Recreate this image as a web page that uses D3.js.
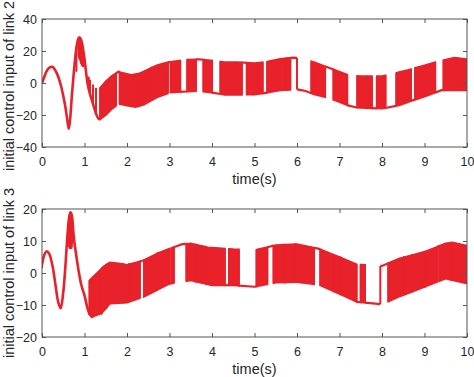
<!DOCTYPE html>
<html>
<head>
<meta charset="utf-8">
<script src="https://cdn.jsdelivr.net/npm/d3@7"></script>
<style>
  body { margin: 0; background: #fff; }
  svg { display: block; font-family: Arial, "Liberation Sans", Helvetica, sans-serif; }
</style>
</head>
<body>
<svg id="chart" width="474" height="377"></svg>
<script>
// ---- data ----
var timeTicks = [0, 1, 2, 3, 4, 5, 6, 7, 8, 9, 10];
var link2Ticks = [-40, -20, 0, 20, 40];
var link3Ticks = [-20, -10, 0, 10, 20];

// link 2: smooth start of the signal
var link2CurveT = [0, 0.05, 0.1, 0.15, 0.2, 0.25, 0.3, 0.35, 0.4, 0.45, 0.5, 0.55, 0.6, 0.63, 0.66, 0.7, 0.75, 0.8, 0.84, 0.87, 0.91, 0.96, 1.0, 1.07, 1.13, 1.2, 1.27, 1.33, 1.37];
var link2CurveV = [0, 3.5, 7, 9, 10, 10, 8.5, 6, 2.5, -2, -8, -15, -24, -28.5, -23, -9, 7, 20, 26.5, 28.5, 27.5, 22, 15, 0, -7, -13, -19, -22.3, -22.5];
// link 2: chattering envelopes
var link2UpperT = [1.37, 1.5, 1.65, 1.8, 1.95, 2.1, 2.3, 2.5, 2.7, 2.9, 3.1, 3.4, 3.7, 4.0, 4.3, 4.6, 5.0, 5.3, 5.6, 5.9, 6.1, 6.4, 6.7, 6.9, 7.2, 7.5, 8.0, 8.3, 8.6, 9.0, 9.4, 9.7, 10];
var link2UpperV = [-3, 1, 4.5, 7, 6, 5, 6, 8.5, 11, 12.5, 13.5, 14.5, 14.8, 14, 13, 13, 12.3, 13.3, 15, 15.8, 15.5, 13, 10, 8, 5, 4.2, 4.2, 6, 8, 11, 14, 15.8, 14.8];
var link2LowerT = [1.37, 1.5, 1.65, 1.8, 2.0, 2.2, 2.4, 2.7, 3.0, 3.4, 3.7, 4.0, 4.3, 4.6, 5.0, 5.3, 5.6, 6.0, 6.2, 6.4, 6.7, 6.9, 7.2, 7.4, 8.0, 8.4, 8.7, 9.0, 9.4, 10];
var link2LowerV = [-22.5, -20, -16, -13, -14, -15, -13.5, -9, -6, -5.3, -5, -6, -7.3, -7.3, -7.2, -6, -4.5, -4, -5, -7, -9, -10.8, -14, -15.3, -16, -14, -11, -8.5, -4.5, -4.5];
// [start, end, kind]  b = dense switching, h = held on upper, l = held on lower
var link2Segments = [
  [1.37, 1.74, "b"], [1.74, 1.83, "h"], [1.83, 2.27, "b"], [2.27, 2.31, "l"], [2.31, 2.56, "b"],
  [2.56, 2.6, "h"], [2.6, 2.96, "b"], [2.96, 3.03, "h"], [3.03, 3.25, "b"], [3.25, 3.42, "l"],
  [3.42, 3.62, "b"], [3.62, 3.8, "h"], [3.8, 4.0, "b"], [4.0, 4.2, "l"], [4.2, 4.7, "b"],
  [4.7, 4.82, "h"], [4.82, 5.19, "b"], [5.19, 5.3, "l"], [5.3, 5.74, "b"], [5.74, 5.76, "h"],
  [5.76, 5.84, "b"], [5.84, 6.0, "h"], [6.0, 6.34, "l"], [6.34, 6.66, "b"], [6.66, 6.86, "h"],
  [6.86, 7.18, "b"], [7.18, 7.42, "l"], [7.42, 7.62, "b"], [7.62, 7.65, "l"], [7.65, 7.76, "b"],
  [7.76, 7.88, "l"], [7.88, 8.08, "b"], [8.08, 8.34, "l"], [8.34, 8.68, "b"], [8.68, 8.78, "l"],
  [8.78, 9.25, "b"], [9.25, 9.45, "l"], [9.45, 10, "b"]
];
// isolated switching spikes [t, from, to]
var link2Spikes = [
  [0.81, 23, 7], [0.86, 28, 17], [0.87, 28.5, 16], [0.88, 28.5, 15], [0.89, 28.3, 14.5], [0.9, 28, 14],
  [0.91, 27.5, 13], [0.92, 27, 12], [0.93, 26.3, 11.5], [0.94, 25.5, 11], [0.95, 24.5, 10.5],
  [0.96, 23, 10], [0.99, 18, 10], [1.1, -3.5, 4], [1.13, -7, 2], [1.2, -13, -1], [1.27, -19, -3]
];

// link 3
var link3CurveT = [0, 0.05, 0.11, 0.17, 0.25, 0.32, 0.38, 0.44, 0.5, 0.55, 0.6, 0.64, 0.67, 0.7, 0.75, 0.8, 0.87, 0.93, 1.0, 1.07, 1.12];
var link3CurveV = [2.5, 5.5, 6.8, 6, 2, -4, -9, -11, -6, 2, 12, 17.5, 19, 18, 11, 6, 0, -4, -7, -11, -13];
var link3UpperT = [1.12, 1.3, 1.45, 1.6, 1.8, 2.0, 2.2, 2.4, 2.7, 3.0, 3.3, 3.5, 3.9, 4.5, 5.0, 5.5, 6.0, 6.5, 6.9, 7.4, 8.0, 8.4, 9.0, 9.5, 9.65, 10];
var link3UpperV = [-2.3, 0, 2, 3.3, 3, 2.5, 3.2, 4, 6, 7.6, 9, 9.2, 8, 7.4, 7.1, 8.7, 9, 7.6, 5.5, 2.7, 2.2, 4.5, 6.6, 9.2, 9.5, 8.5];
var link3LowerT = [1.12, 1.17, 1.25, 1.4, 1.6, 2.0, 2.4, 3.0, 3.5, 4.0, 4.5, 5.0, 5.5, 6.0, 6.5, 6.9, 7.4, 8.0, 8.4, 9.0, 9.5, 10];
var link3LowerV = [-13, -13.8, -13.3, -12.6, -9.5, -9.2, -7.4, -3.3, -2.3, -3.8, -3.8, -4.3, -3, -2.8, -3.6, -5.9, -9, -9.8, -7.4, -4.3, -1.7, -3.3];
var link3Segments = [
  [1.12, 1.38, "b"], [1.38, 1.41, "l"], [1.41, 1.5, "b"], [1.5, 1.53, "l"], [1.53, 1.9, "b"],
  [1.9, 1.93, "h"], [1.93, 2.03, "b"], [2.03, 2.06, "h"], [2.06, 2.3, "b"], [2.3, 2.4, "h"],
  [2.4, 2.7, "b"], [2.7, 2.73, "h"], [2.73, 3.0, "b"], [3.0, 3.05, "l"], [3.05, 3.1, "b"],
  [3.1, 3.4, "h"], [3.4, 3.6, "b"], [3.6, 3.63, "l"], [3.63, 3.75, "b"], [3.75, 3.78, "l"],
  [3.78, 3.85, "b"], [3.85, 3.88, "l"], [3.88, 4.3, "b"], [4.3, 4.4, "l"], [4.4, 4.63, "b"],
  [4.63, 5.05, "l"], [5.05, 5.3, "b"], [5.3, 5.45, "h"], [5.45, 5.7, "b"], [5.7, 5.73, "l"],
  [5.73, 5.95, "b"], [5.95, 5.98, "h"], [5.98, 6.4, "b"], [6.4, 6.55, "h"], [6.55, 6.85, "b"],
  [6.85, 6.88, "l"], [6.88, 7.0, "b"], [7.0, 7.03, "h"], [7.03, 7.4, "b"], [7.4, 7.5, "l"],
  [7.5, 7.6, "b"], [7.6, 7.96, "l"], [7.96, 8.15, "h"], [8.15, 8.5, "b"], [8.5, 8.53, "h"],
  [8.53, 8.7, "b"], [8.7, 8.73, "h"], [8.73, 9.0, "b"], [9.0, 9.03, "l"], [9.03, 9.3, "b"],
  [9.3, 9.35, "h"], [9.35, 9.6, "b"], [9.6, 9.63, "l"], [9.63, 10, "b"]
];
var link3Spikes = [
  [0.0, 1.5, 5], [0.62, 14, 10], [0.63, 16, 9], [0.64, 17.5, 8], [0.65, 18.3, 7.8], [0.66, 18.8, 7.5],
  [0.67, 19, 7.5], [0.68, 19, 7.5], [0.69, 18.6, 7.6], [0.7, 18, 8], [0.71, 17, 9], [0.72, 15, 10]
];

// ---- drawing ----
var RED = "#e8212a", AXIS = "#555555";
var svg = d3.select("#chart");
var x = d3.scaleLinear().domain([0, 10]).range([42, 467]);

function drawPanel(p) {
  var y = d3.scaleLinear().domain(p.yDomain).range([p.bottom, p.top]);
  var up = d3.scaleLinear().domain(p.upperT).range(p.upperV).clamp(true);
  var lo = d3.scaleLinear().domain(p.lowerT).range(p.lowerV).clamp(true);
  var g = svg.append("g");

  var clipId = "clip" + p.id;
  svg.append("clipPath").attr("id", clipId)
    .append("rect").attr("x", x(0)).attr("y", p.top)
    .attr("width", x(10) - x(0)).attr("height", p.bottom - p.top);
  var marks = g.append("g").attr("clip-path", "url(#" + clipId + ")");

  // knots of both envelopes inside a segment
  function knots(t0, t1) {
    var ts = [t0];
    p.upperT.concat(p.lowerT).forEach(function (t) { if (t > t0 && t < t1) ts.push(t); });
    ts.push(t1);
    return ts.sort(d3.ascending);
  }

  var area = d3.area()
    .x(function (t) { return x(t); })
    .y0(function (t) { return y(lo(t)); })
    .y1(function (t) { return y(up(t)); });
  var line = d3.line().x(function (d) { return x(d[0]); }).y(function (d) { return y(d[1]); });

  p.segments.forEach(function (s) {
    var ts = knots(s[0], s[1]);
    if (s[2] === "b") {
      marks.append("path").attr("d", area(ts))
        .attr("fill", RED).attr("stroke", RED).attr("stroke-width", 2);
    } else {
      var f = s[2] === "h" ? up : lo;
      marks.append("path").attr("d", line(ts.map(function (t) { return [t, f(t)]; })))
        .attr("fill", "none").attr("stroke", RED).attr("stroke-width", 2.2);
    }
    // switch at the segment boundary
    marks.append("line")
      .attr("x1", x(s[0])).attr("x2", x(s[0]))
      .attr("y1", y(lo(s[0]))).attr("y2", y(up(s[0])))
      .attr("stroke", RED).attr("stroke-width", 2);
  });

  marks.selectAll(".spike").data(p.spikes).enter().append("line")
    .attr("x1", function (d) { return x(d[0]); }).attr("x2", function (d) { return x(d[0]); })
    .attr("y1", function (d) { return y(d[1]); }).attr("y2", function (d) { return y(d[2]); })
    .attr("stroke", RED).attr("stroke-width", 2);

  marks.append("path")
    .attr("d", d3.line().curve(d3.curveCatmullRom)
      .x(function (d) { return x(d[0]); }).y(function (d) { return y(d[1]); })(d3.zip(p.curveT, p.curveV)))
    .attr("fill", "none").attr("stroke", RED).attr("stroke-width", 2.6)
    .attr("stroke-linejoin", "round");

  // axes, matlab style: inward ticks on all four sides
  function style(a) {
    a.select(".domain").remove();
    a.selectAll("line").attr("stroke", AXIS);
    a.selectAll("text").attr("fill", "#262626").style("font-size", "12.5px");
  }
  g.append("g").attr("transform", "translate(0," + p.bottom + ")")
    .call(d3.axisBottom(x).tickValues(timeTicks).tickSize(-4).tickPadding(10).tickFormat(d3.format("d")))
    .call(style);
  g.append("g").attr("transform", "translate(0," + p.top + ")")
    .call(d3.axisTop(x).tickValues(timeTicks).tickSize(-4).tickFormat(""))
    .call(style);
  g.append("g").attr("transform", "translate(" + x(0) + ",0)")
    .call(d3.axisLeft(y).tickValues(p.ticks).tickSize(-4).tickPadding(5).tickFormat(d3.format("d")))
    .call(style);
  g.append("g").attr("transform", "translate(" + x(10) + ",0)")
    .call(d3.axisRight(y).tickValues(p.ticks).tickSize(-4).tickFormat(""))
    .call(style);
  g.append("rect").attr("x", x(0)).attr("y", p.top)
    .attr("width", x(10) - x(0)).attr("height", p.bottom - p.top)
    .attr("fill", "none").attr("stroke", AXIS).attr("stroke-width", 1);

  g.append("text").attr("x", (x(0) + x(10)) / 2).attr("y", p.bottom + 37)
    .attr("text-anchor", "middle").attr("fill", "#262626").style("font-size", "14.5px")
    .text("time(s)");
  g.append("text")
    .attr("transform", "translate(14," + p.labelY + ") rotate(-90)")
    .attr("text-anchor", "middle").attr("fill", "#262626").style("font-size", "14.5px")
    .text(p.label);
}

drawPanel({
  id: 2, top: 19, bottom: 147, yDomain: [-40, 40], ticks: link2Ticks,
  label: "initial control input of link 2", labelY: 86,
  curveT: link2CurveT, curveV: link2CurveV,
  upperT: link2UpperT, upperV: link2UpperV, lowerT: link2LowerT, lowerV: link2LowerV,
  segments: link2Segments, spikes: link2Spikes
});
drawPanel({
  id: 3, top: 209, bottom: 337, yDomain: [-20, 20], ticks: link3Ticks,
  label: "initial control input of link 3", labelY: 273,
  curveT: link3CurveT, curveV: link3CurveV,
  upperT: link3UpperT, upperV: link3UpperV, lowerT: link3LowerT, lowerV: link3LowerV,
  segments: link3Segments, spikes: link3Spikes
});
</script>
</body>
</html>
